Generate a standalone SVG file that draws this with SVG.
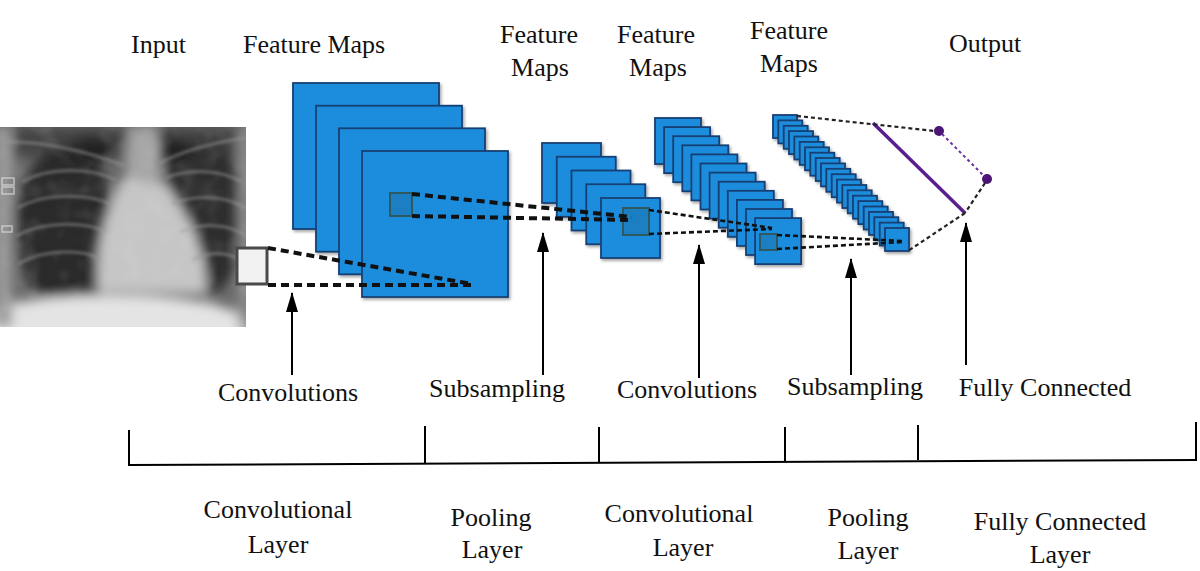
<svg xmlns="http://www.w3.org/2000/svg" width="1200" height="571" viewBox="0 0 1200 571">
<style>
.t{font-family:"Liberation Serif","Times New Roman",serif;font-size:26px;fill:#111}
.m{text-anchor:middle}
.fm{fill:#1d8ddd;stroke:#163f73;stroke-width:1.8}
.sq{fill:#1b7fc4;stroke:#2f5a5e;stroke-width:2}
.d1{stroke:#111;stroke-width:4;stroke-dasharray:8 5;fill:none}
.d2{stroke:#111;stroke-width:2.6;stroke-dasharray:5 3;fill:none}
.d3{stroke:#222;stroke-width:2.2;stroke-dasharray:4 3;fill:none}
.ar{stroke:#000;stroke-width:2;fill:none;marker-end:url(#ah)}
.ax{stroke:#000;stroke-width:2;fill:none}
</style>
<defs>
<marker id="ah" viewBox="0 0 20 12" refX="19" refY="6" markerWidth="20" markerHeight="12" markerUnits="userSpaceOnUse" orient="auto">
<path d="M0,0 L20,6 L0,12 z" fill="#000"/>
</marker>
<filter id="sh" x="-20%" y="-20%" width="140%" height="140%">
<feDropShadow dx="1.5" dy="2" stdDeviation="1.5" flood-color="#000" flood-opacity="0.35"/>
</filter>
<filter id="bl" x="-30%" y="-30%" width="160%" height="160%"><feGaussianBlur stdDeviation="6"/></filter>
<filter id="bl2" x="-20%" y="-20%" width="140%" height="140%"><feGaussianBlur stdDeviation="1.5"/></filter>
<filter id="tx" x="0" y="0" width="100%" height="100%">
<feTurbulence type="fractalNoise" baseFrequency="0.05" numOctaves="2" seed="4"/>
<feColorMatrix type="matrix" values="0 0 0 0 0.8  0 0 0 0 0.8  0 0 0 0 0.8  0 0 0 1.6 -0.75"/>
<feGaussianBlur stdDeviation="0.8"/>
</filter>
<clipPath id="xc"><rect x="0" y="127" width="246" height="200"/></clipPath>
<rect id="r1" width="146" height="146" class="fm"/>
<rect id="r2" width="59" height="60" class="fm"/>
<rect id="r3" width="46" height="46" class="fm"/>
<rect id="r4" width="24" height="23" class="fm"/>
</defs>
<rect width="1200" height="571" fill="#fff"/>

<g id="input">
<g clip-path="url(#xc)">
<rect x="0" y="127" width="246" height="200" fill="#6a6a6a"/>
<g filter="url(#bl)">
<rect x="0" y="127" width="246" height="30" fill="#444"/>
<ellipse cx="66" cy="228" rx="50" ry="82" fill="#2c2c2c"/>
<ellipse cx="202" cy="218" rx="44" ry="78" fill="#2e2e2e"/>
<ellipse cx="92" cy="150" rx="24" ry="13" fill="#222"/>
<ellipse cx="168" cy="150" rx="24" ry="13" fill="#222"/>
<path d="M128,127 L158,127 L162,200 L124,200 Z" fill="#a6a6a6"/>
<path d="M122,180 C104,212 94,252 98,292 L206,294 C208,262 196,226 166,184 Z" fill="#c6c6c6"/>
<ellipse cx="110" cy="325" rx="140" ry="30" fill="#e4e4e4"/>
<rect x="-6" y="127" width="18" height="200" fill="#9a9a9a"/>
<rect x="238" y="127" width="14" height="200" fill="#8a8a8a"/>
</g>
<rect x="0" y="127" width="246" height="200" filter="url(#tx)" opacity="0.2"/>
<g filter="url(#bl2)" fill="none" stroke="#9c9c9c" stroke-width="3" opacity="0.5">
<path d="M0,142 C40,140 90,152 125,166"/>
<path d="M246,138 C210,143 180,152 158,164"/>
<path d="M22,182 C50,166 92,168 116,180"/>
<path d="M18,208 C45,192 90,194 112,205"/>
<path d="M16,236 C45,220 88,222 106,232"/>
<path d="M18,264 C45,248 84,250 98,258"/>
<path d="M166,178 C190,168 222,170 242,182"/>
<path d="M172,204 C196,194 226,196 246,208"/>
<path d="M180,232 C202,222 230,224 246,236"/>
<path d="M192,260 C212,250 232,252 246,264"/>
</g>
<g fill="none" stroke="#ddd" stroke-width="1.4" opacity="0.75">
<rect x="2" y="178" width="12" height="7"/><rect x="2" y="187" width="12" height="7"/>
<rect x="2" y="226" width="10" height="6"/>
</g>
</g>
<rect x="237" y="248" width="30" height="36" fill="#f2f2f2" stroke="#4a4a4a" stroke-width="3"/>
</g>

<g id="fm1" filter="url(#sh)">
<use href="#r1" x="293" y="83"/>
<use href="#r1" x="316" y="105.7"/>
<use href="#r1" x="339" y="128.3"/>
<use href="#r1" x="362" y="151"/>
<rect x="390" y="193" width="22" height="23" class="sq"/>
</g>

<g id="fm2" filter="url(#sh)">
<use href="#r2" x="542" y="143"/>
<use href="#r2" x="556.75" y="156.75"/>
<use href="#r2" x="571.5" y="170.5"/>
<use href="#r2" x="586.25" y="184.25"/>
<use href="#r2" x="601" y="198"/>
<rect x="623" y="208" width="26" height="27" class="sq"/>
</g>

<g id="fm3" filter="url(#sh)">
<use href="#r3" x="655" y="118"/>
<use href="#r3" x="664.1" y="127.1"/>
<use href="#r3" x="673.2" y="136.2"/>
<use href="#r3" x="682.3" y="145.3"/>
<use href="#r3" x="691.4" y="154.4"/>
<use href="#r3" x="700.5" y="163.5"/>
<use href="#r3" x="709.6" y="172.6"/>
<use href="#r3" x="718.7" y="181.7"/>
<use href="#r3" x="727.8" y="190.8"/>
<use href="#r3" x="736.9" y="199.9"/>
<use href="#r3" x="746" y="209"/>
<use href="#r3" x="755.1" y="218.1"/>
<rect x="760" y="234" width="17" height="16" class="sq"/>
</g>

<g id="fm4" filter="url(#sh)">
<use href="#r4" x="773" y="115"/>
<use href="#r4" x="778.3" y="120.4"/>
<use href="#r4" x="783.7" y="125.8"/>
<use href="#r4" x="789" y="131.1"/>
<use href="#r4" x="794.3" y="136.5"/>
<use href="#r4" x="799.7" y="141.9"/>
<use href="#r4" x="805" y="147.3"/>
<use href="#r4" x="810.3" y="152.7"/>
<use href="#r4" x="815.7" y="158"/>
<use href="#r4" x="821" y="163.4"/>
<use href="#r4" x="826.3" y="168.8"/>
<use href="#r4" x="831.7" y="174.2"/>
<use href="#r4" x="837" y="179.6"/>
<use href="#r4" x="842.3" y="185"/>
<use href="#r4" x="847.7" y="190.3"/>
<use href="#r4" x="853" y="195.7"/>
<use href="#r4" x="858.3" y="201.1"/>
<use href="#r4" x="863.7" y="206.5"/>
<use href="#r4" x="869" y="211.9"/>
<use href="#r4" x="874.3" y="217.2"/>
<use href="#r4" x="879.7" y="222.6"/>
<use href="#r4" x="885" y="228"/>
</g>

<g id="output">
<line x1="873" y1="123" x2="965" y2="213" stroke="#5a1f8e" stroke-width="3.5"/>
<circle cx="939" cy="131" r="5" fill="#4b1575"/>
<circle cx="987" cy="179" r="5" fill="#4b1575"/>
</g>

<g id="connectors">
<line x1="268" y1="248" x2="472" y2="284" class="d1"/>
<line x1="268" y1="285" x2="472" y2="285" class="d1"/>
<line x1="412" y1="194" x2="632" y2="217" class="d1"/>
<line x1="412" y1="216" x2="632" y2="220" class="d1"/>
<line x1="649" y1="210" x2="772" y2="228" class="d2"/>
<line x1="649" y1="234" x2="772" y2="229" class="d2"/>
<line x1="777" y1="235" x2="903" y2="241" class="d2"/>
<line x1="777" y1="249" x2="903" y2="242" class="d2"/>
<line x1="797" y1="116" x2="935" y2="131" class="d3"/>
<line x1="942" y1="134" x2="985" y2="177" stroke="#6b2fa0" stroke-width="2" stroke-dasharray="3 3"/>
<line x1="985" y1="183" x2="965" y2="213" class="d3"/>
<line x1="965" y1="213" x2="908" y2="251" class="d3"/>
</g>

<g id="arrows">
<line x1="292" y1="375" x2="292" y2="293" class="ar"/>
<line x1="543" y1="375" x2="543" y2="233" class="ar"/>
<line x1="699" y1="378" x2="699" y2="245" class="ar"/>
<line x1="851" y1="375" x2="851" y2="259" class="ar"/>
<line x1="966" y1="365" x2="966" y2="223" class="ar"/>
</g>

<g id="axis">
<polyline points="128,465 1197,460" class="ax"/>
<line x1="129" y1="430" x2="129" y2="465" class="ax"/>
<line x1="425" y1="426" x2="425" y2="463" class="ax"/>
<line x1="599" y1="427" x2="599" y2="462" class="ax"/>
<line x1="785" y1="427" x2="785" y2="461" class="ax"/>
<line x1="918" y1="425" x2="918" y2="460" class="ax"/>
<line x1="1196" y1="422" x2="1196" y2="460" class="ax"/>
</g>

<g id="labels">
<text x="131" y="53" class="t">Input</text>
<text x="243" y="53" class="t">Feature Maps</text>
<text x="539" y="43" class="t m">Feature</text>
<text x="540" y="76" class="t m">Maps</text>
<text x="656" y="43" class="t m">Feature</text>
<text x="658" y="76" class="t m">Maps</text>
<text x="789" y="39" class="t m">Feature</text>
<text x="789" y="72" class="t m">Maps</text>
<text x="985" y="52" class="t m">Output</text>
<text x="288" y="401" class="t m">Convolutions</text>
<text x="497" y="397" class="t m">Subsampling</text>
<text x="687" y="398" class="t m">Convolutions</text>
<text x="855" y="395" class="t m">Subsampling</text>
<text x="1045" y="396" class="t m">Fully Connected</text>
<text x="278" y="518" class="t m">Convolutional</text>
<text x="278" y="553" class="t m">Layer</text>
<text x="491" y="526" class="t m">Pooling</text>
<text x="492" y="558" class="t m">Layer</text>
<text x="679" y="522" class="t m">Convolutional</text>
<text x="683" y="556" class="t m">Layer</text>
<text x="868" y="526" class="t m">Pooling</text>
<text x="868" y="559" class="t m">Layer</text>
<text x="1060" y="530" class="t m">Fully Connected</text>
<text x="1060" y="563" class="t m">Layer</text>
</g>
</svg>
